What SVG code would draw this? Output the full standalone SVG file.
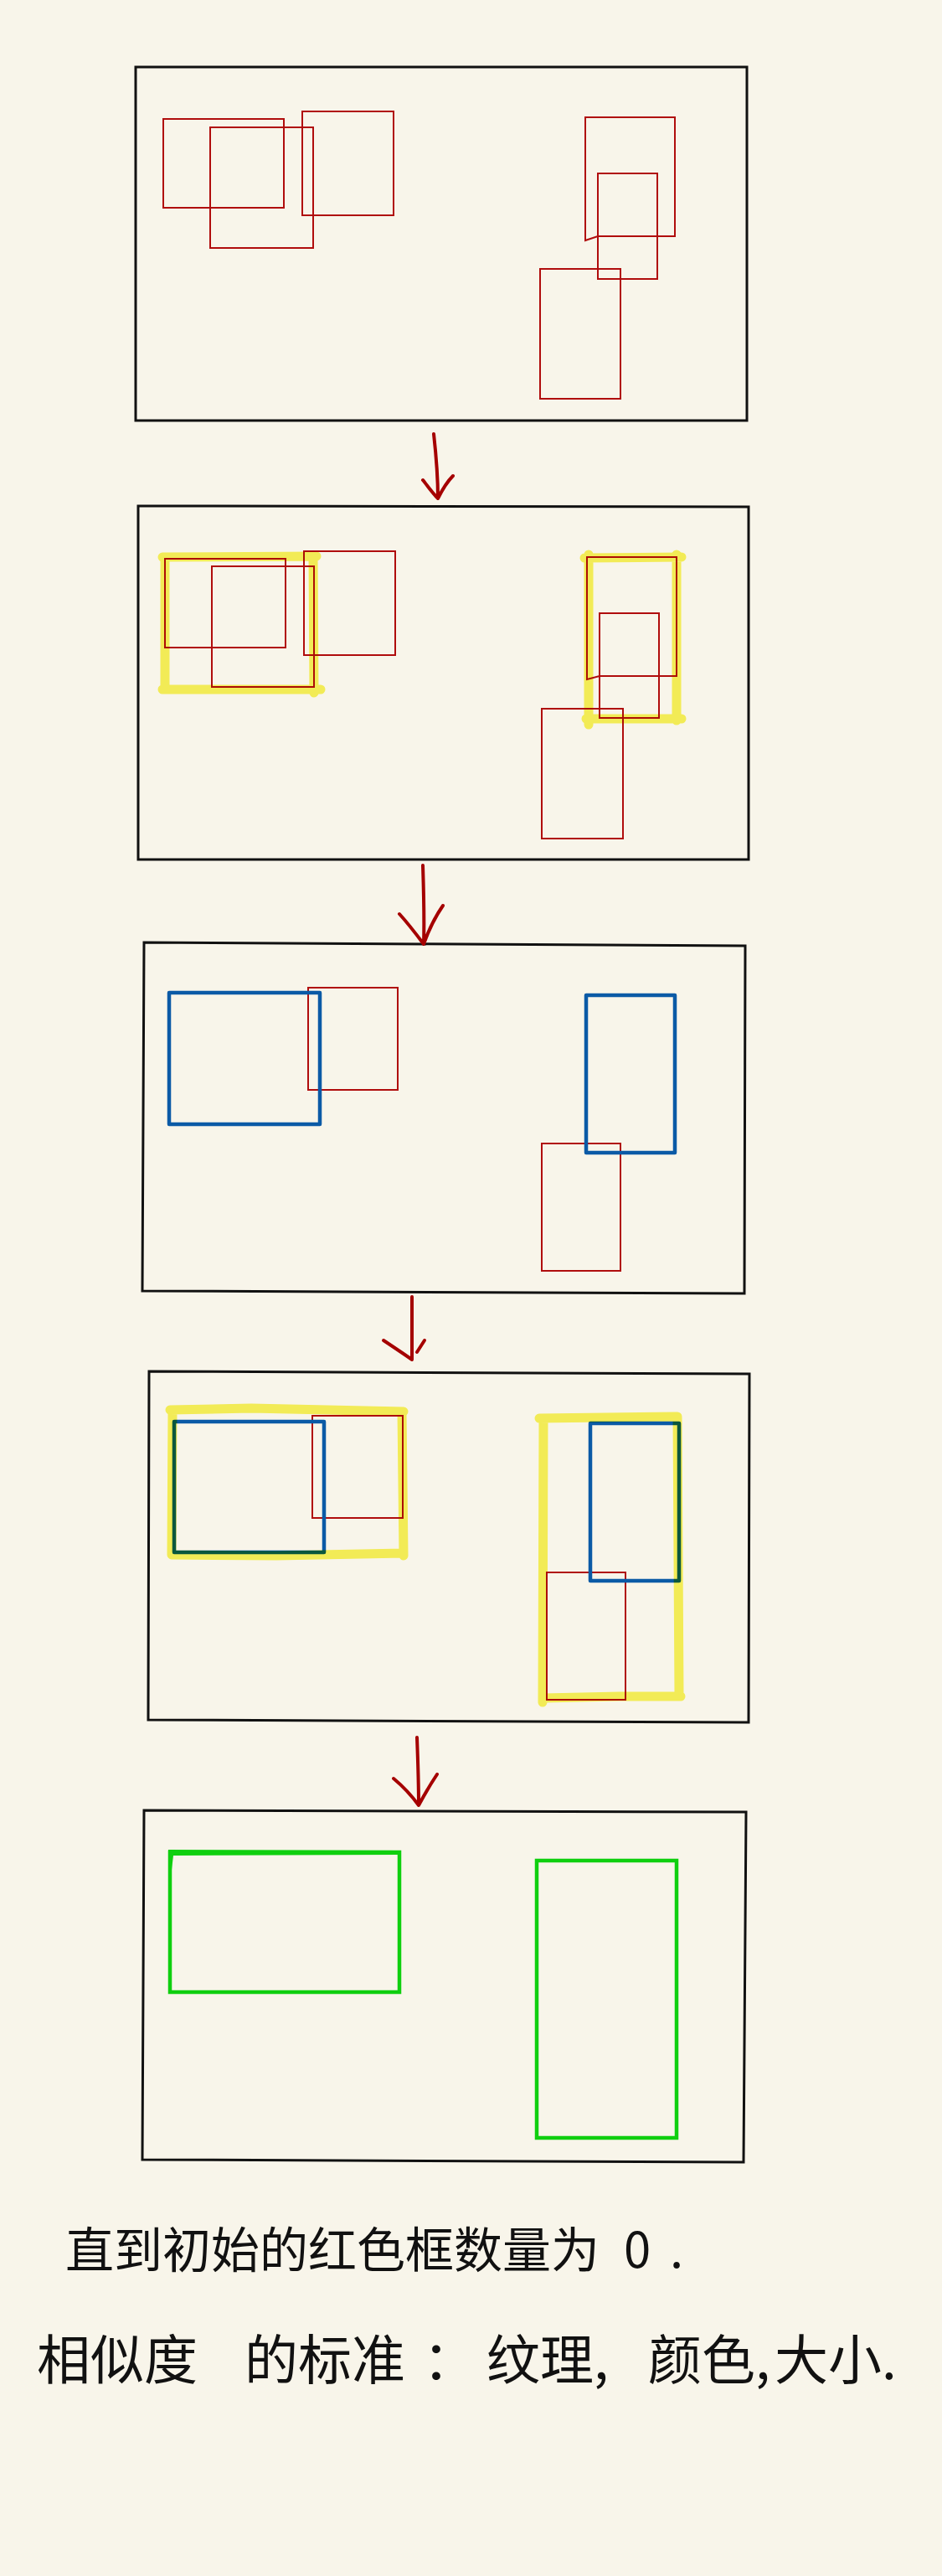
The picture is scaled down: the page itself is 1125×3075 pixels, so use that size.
<svg xmlns="http://www.w3.org/2000/svg" width="1125" height="3075" viewBox="0 0 1125 3075">
<style>
.frame{fill:none;stroke:#111;stroke-width:3;stroke-linejoin:miter}
.red{fill:none;stroke:#b00d0d;stroke-width:2}
.blue{fill:none;stroke:#0b5aa6;stroke-width:4.5;stroke-linejoin:round}
.green{fill:none;stroke:#0fcf0f;stroke-width:4.5}
.hl{fill:none;stroke:#f9f55e;stroke-width:11;stroke-linecap:round;stroke-linejoin:round;mix-blend-mode:multiply}
.arrow{fill:none;stroke:#a50000;stroke-width:4;stroke-linecap:round;stroke-linejoin:round}
.txt{font-family:"Noto Sans CJK SC","Liberation Sans",sans-serif;fill:#111}
</style>
<rect width="1125" height="3075" fill="#f8f5ea"/>

<g id="panel1">
<path class="frame" d="M162,80 L892,80 L892,502 L162,502 Z"/>
<rect class="red" x="195" y="142" width="144" height="106"/>
<rect class="red" x="251" y="152" width="123" height="144"/>
<rect class="red" x="361" y="133" width="109" height="124"/>
<path class="red" d="M699,140 H806 V282 H714 L699,287 Z"/>
<rect class="red" x="714" y="207" width="71" height="126" stroke-width="2.5"/>
<rect class="red" x="645" y="321" width="96" height="155"/>
</g>

<g id="panel2">
<path class="frame" d="M165,604 L894,605 L894,1026 L165,1026 Z"/>
<rect class="red" x="197" y="667" width="144" height="106"/>
<rect class="red" x="253" y="676" width="122" height="144"/>
<rect class="red" x="363" y="658" width="109" height="124"/>
<path class="red" d="M701,665 H808 V807 H716 L701,811 Z"/>
<rect class="red" x="716" y="732" width="71" height="125" stroke-width="2.5"/>
<rect class="red" x="647" y="846" width="97" height="155"/>
<path class="hl" d="M194,665 L378,664 M197,665 L197,823 M194,823 L383,823 M374,663 L375,827"/>
<path class="hl" d="M698,666 L814,665 M703,662 L703,865 M808,662 L808,860 M700,858 L814,858"/>
</g>

<g id="panel3">
<path class="frame" d="M172,1125 L890,1129 L889,1544 L170,1541 Z"/>
<rect class="red" x="368" y="1179" width="107" height="122"/>
<rect class="red" x="647" y="1365" width="94" height="152"/>
<rect class="blue" x="202" y="1185" width="180" height="157"/>
<rect class="blue" x="700" y="1188" width="106" height="188"/>
</g>

<g id="panel4">
<path class="frame" d="M178,1637 L895,1640 L894,2056 L177,2053 Z"/>
<rect class="red" x="373" y="1690" width="108" height="122"/>
<rect class="red" x="653" y="1877" width="94" height="152"/>
<rect class="blue" x="208" y="1697" width="179" height="156"/>
<rect class="blue" x="705" y="1699" width="106" height="188"/>
<path class="hl" d="M203,1683 L300,1681 L482,1685 M480,1685 L482,1857 M206,1856 L330,1857 L482,1854 M206,1685 L205,1856"/>
<path class="hl" d="M644,1693 L809,1691 M649,1693 L648,2032 M809,1692 L811,2023 M649,2027 L740,2025 L813,2025"/>
</g>

<g id="panel5">
<path class="frame" d="M172,2161 L891,2163 L888,2581 L170,2578 Z"/>
<rect class="green" x="203" y="2211" width="274" height="167"/>
<path d="M201,2208 L477,2209 L477,2214 L207,2215 L205,2232 L202,2232 Z" fill="#0fcf0f"/>
<rect class="green" x="641" y="2221" width="167" height="331"/>
</g>

<g id="connectors">
<path class="arrow" d="M518,518 C521,545 523,570 523,595 M505,573 C512,582 518,590 523,595 C528,585 534,575 541,568"/>
<path class="arrow" d="M505,1033 C506,1065 507,1095 506,1127 M477,1091 C487,1102 497,1115 506,1127 C512,1110 520,1094 529,1081"/>
<path class="arrow" d="M492,1548 L492,1623 M458,1600 C470,1608 482,1616 492,1623 M498,1614 L507,1600"/>
<path class="arrow" d="M498,2074 C499,2100 500,2130 500,2155 M470,2123 C482,2133 492,2144 500,2155 C507,2142 514,2130 522,2118"/>
</g>

<g id="notes">
<text class="txt" font-size="58" y="2707"><tspan x="78">直到初始的红色框数量为</tspan><tspan x="745">0</tspan><tspan x="800">.</tspan></text>
<text class="txt" font-size="64" y="2840"><tspan x="44">相似度</tspan><tspan x="292">的标准</tspan><tspan x="505">：</tspan><tspan x="581">纹理,</tspan><tspan x="774">颜色,</tspan><tspan x="925">大小.</tspan></text>
</g>
</svg>
